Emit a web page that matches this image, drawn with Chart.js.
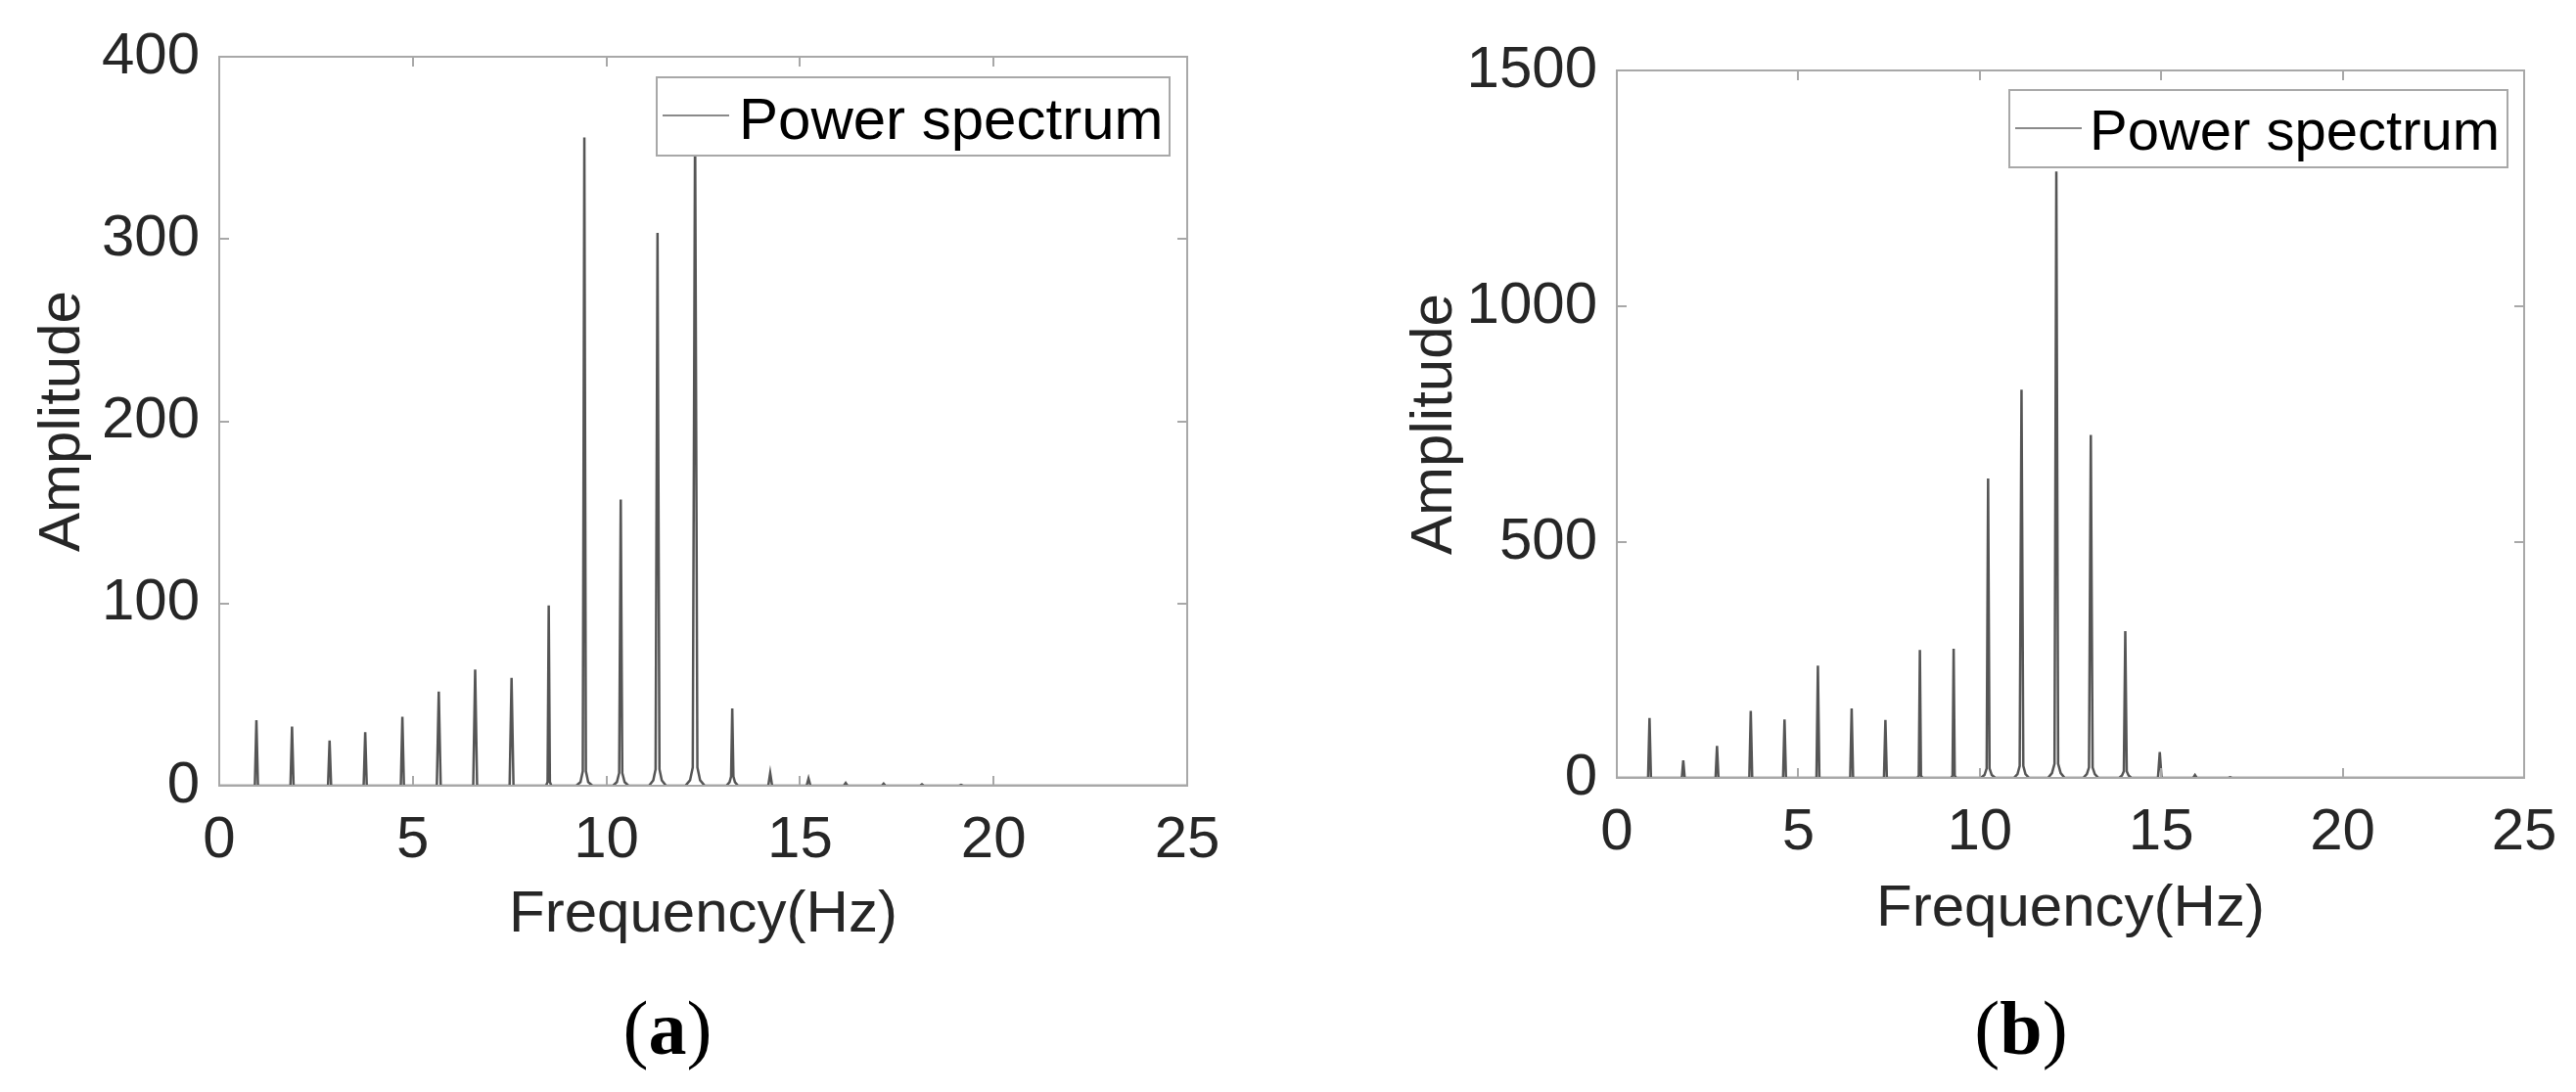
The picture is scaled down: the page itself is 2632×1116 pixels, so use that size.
<!DOCTYPE html>
<html>
<head>
<meta charset="utf-8">
<title>Power spectrum</title>
<script src="https://cdn.jsdelivr.net/npm/chart.js@4.4.1/dist/chart.umd.min.js"></script>
<style>
  html, body { margin: 0; padding: 0; background: #fff; }
  body { width: 2632px; height: 1116px; position: relative; overflow: hidden; }
  canvas { position: absolute; top: 0; }
  #chartA { left: 0; }
  #chartB { left: 1320px; }
  .caption {
    position: absolute; top: 1012px; width: 200px; text-align: center;
    font: 78px/78px "Liberation Serif", "Times New Roman", serif; color: #000;
  }
</style>
</head>
<body>
<canvas id="chartA" width="1310" height="1000"></canvas>
<canvas id="chartB" width="1312" height="1000"></canvas>
<div class="caption" style="left:582px">(<b>a</b>)</div>
<div class="caption" style="left:1965px">(<b>b</b>)</div>
<script>
// tick labels
const freqTicks = [0, 5, 10, 15, 20, 25];
const ampTicksA = [0, 100, 200, 300, 400];
const ampTicksB = [0, 500, 1000, 1500];

// panel (a) spectrum, vertices
const freqA = [0,
  0.92, 0.96, 1.00,
  1.84, 1.88, 1.92,
  2.81, 2.85, 2.89,
  3.73, 3.77, 3.81,
  4.69, 4.73, 4.77,
  5.62, 5.67, 5.72,
  6.56, 6.61, 6.66,
  7.50, 7.55, 7.60,
  8.44, 8.48, 8.51, 8.54, 8.58,
  9.22, 9.33, 9.39, 9.43, 9.47, 9.53, 9.64,
  10.17, 10.27, 10.33, 10.37, 10.41, 10.47, 10.57,
  11.10, 11.21, 11.27, 11.32, 11.37, 11.43, 11.54,
  12.04, 12.16, 12.23, 12.29, 12.35, 12.42, 12.54,
  13.10, 13.18, 13.22, 13.25, 13.28, 13.32, 13.40,
  14.18, 14.23, 14.28,
  15.17, 15.22, 15.27,
  16.13, 16.18, 16.23,
  17.11, 17.16, 17.21,
  18.10, 18.15, 18.20,
  19.11, 19.16, 19.21,
  25];
const ampA = [0,
  0, 35.9, 0,
  0, 32.5, 0,
  0, 24.8, 0,
  0, 29.4, 0,
  0, 37.8, 0,
  0, 51.6, 0,
  0, 63.8, 0,
  0, 59.2, 0,
  0, 2, 98.9, 2, 0,
  0, 2, 8, 355.7, 8, 2, 0,
  0, 2, 7, 157, 7, 2, 0,
  0, 3, 9, 303.3, 9, 3, 0,
  0, 3, 10, 365, 10, 3, 0,
  0, 2, 5, 42.4, 5, 2, 0,
  0, 7, 0,
  0, 4, 0,
  0, 1.5, 0,
  0, 1.2, 0,
  0, 0.8, 0,
  0, 0.5, 0,
  0];

// panel (b) spectrum
const freqB = [0,
  0.86, 0.90, 0.94,
  1.79, 1.83, 1.87,
  2.72, 2.76, 2.80,
  3.65, 3.69, 3.73,
  4.58, 4.62, 4.66,
  5.50, 5.54, 5.58,
  6.43, 6.47, 6.51,
  7.36, 7.40, 7.44,
  8.28, 8.32, 8.35, 8.38, 8.42,
  9.21, 9.25, 9.28, 9.31, 9.35,
  10.03, 10.13, 10.19, 10.23, 10.27, 10.33, 10.43,
  10.94, 11.04, 11.10, 11.15, 11.20, 11.26, 11.36,
  11.88, 11.99, 12.06, 12.11, 12.16, 12.23, 12.34,
  12.85, 12.95, 13.01, 13.06, 13.11, 13.17, 13.27,
  13.84, 13.92, 13.97, 14.01, 14.05, 14.10, 14.18,
  14.91, 14.96, 15.01,
  15.88, 15.93, 15.98,
  16.85, 16.90, 16.95,
  25];
const ampB = [0,
  0, 127, 0,
  0, 37, 0,
  0, 68, 0,
  0, 142, 0,
  0, 124, 0,
  0, 238, 0,
  0, 147, 0,
  0, 123, 0,
  0, 5, 271, 5, 0,
  0, 5, 274, 5, 0,
  0, 6, 20, 635, 20, 6, 0,
  0, 8, 25, 823, 25, 8, 0,
  0, 10, 30, 1286, 30, 10, 0,
  0, 8, 22, 727, 22, 8, 0,
  0, 5, 14, 311, 14, 5, 0,
  0, 55, 0,
  0, 6, 0,
  0, 1.5, 0,
  0];

Chart.defaults.font.family = '"Liberation Sans", Arial, Helvetica, sans-serif';
Chart.defaults.color = '#262626';

// MATLAB style box with inward ticks, then the legend on top
const frameAndLegend = {
  id: 'frameAndLegend',
  afterDatasetsDraw(chart, args, opts) {
    const { ctx, chartArea: a, scales: { x, y } } = chart;
    ctx.save();
    ctx.strokeStyle = '#a8a8a8';
    ctx.lineWidth = 2;
    ctx.strokeRect(a.left, a.top, a.right - a.left, a.bottom - a.top);
    ctx.beginPath();
    x.ticks.forEach(t => {
      const px = Math.round(x.getPixelForValue(t.value));
      ctx.moveTo(px, a.bottom); ctx.lineTo(px, a.bottom - 10);
      ctx.moveTo(px, a.top); ctx.lineTo(px, a.top + 10);
    });
    y.ticks.forEach(t => {
      const py = Math.round(y.getPixelForValue(t.value));
      ctx.moveTo(a.left, py); ctx.lineTo(a.left + 10, py);
      ctx.moveTo(a.right, py); ctx.lineTo(a.right - 10, py);
    });
    ctx.stroke();

    const b = opts.box;
    ctx.fillStyle = '#fff';
    ctx.fillRect(b.left, b.top, b.right - b.left, b.bottom - b.top);
    ctx.strokeStyle = '#a8a8a8';
    ctx.strokeRect(b.left, b.top, b.right - b.left, b.bottom - b.top);
    ctx.strokeStyle = '#8a8a8a';
    ctx.beginPath();
    ctx.moveTo(b.lineStart, b.lineY);
    ctx.lineTo(b.lineEnd, b.lineY);
    ctx.stroke();
    ctx.fillStyle = '#000';
    ctx.font = b.fontSize + 'px ' + Chart.defaults.font.family;
    ctx.textBaseline = 'alphabetic';
    ctx.textAlign = 'left';
    ctx.fillText(chart.data.datasets[0].label, b.textX, b.textY);
    ctx.restore();
  }
};

function makeChart(id, freq, amp, ampMax, ampTicks, geo) {
  const ctx = document.getElementById(id).getContext('2d');
  return new Chart(ctx, {
    type: 'scatter',
    data: {
      datasets: [{
        label: 'Power spectrum',
        data: freq.map((f, i) => ({ x: f, y: amp[i] })),
        showLine: true,
        borderColor: '#555555',
        borderWidth: 2.5,
        pointRadius: 0,
        pointHoverRadius: 0,
        fill: false,
        tension: 0
      }]
    },
    options: {
      responsive: false,
      animation: false,
      devicePixelRatio: 1,
      layout: { padding: geo.padding },
      plugins: {
        legend: { display: false },
        tooltip: { enabled: false },
        frameAndLegend: { box: geo.legend }
      },
      scales: {
        x: {
          type: 'linear', min: 0, max: 25,
          afterBuildTicks: s => { s.ticks = freqTicks.map(v => ({ value: v })); },
          afterFit: s => { s.height = 170; s.paddingLeft = 0; s.paddingRight = 0; },
          grid: { display: false, drawTicks: false },
          border: { display: false },
          ticks: {
            padding: 20, maxRotation: 0, autoSkip: false, color: '#262626',
            font: { size: 60, lineHeight: 1.2 },
            callback: v => String(v)
          },
          title: {
            display: true, text: 'Frequency(Hz)', color: '#262626',
            font: { size: 60, lineHeight: 1.2 },
            padding: { top: 0, bottom: geo.xTitlePad }
          }
        },
        y: {
          type: 'linear', min: 0, max: ampMax,
          afterBuildTicks: s => { s.ticks = ampTicks.map(v => ({ value: v })); },
          afterFit: s => { s.width = geo.yWidth; s.paddingTop = 0; s.paddingBottom = 0; },
          grid: { display: false, drawTicks: false },
          border: { display: false },
          ticks: {
            padding: 20, autoSkip: false, color: '#262626',
            font: { size: 60, lineHeight: 1.2 },
            callback: v => String(v)
          },
          title: {
            display: true, text: 'Amplitude', color: '#262626',
            font: { size: 60, lineHeight: 1.2 },
            padding: { top: geo.yTitlePad, bottom: 0 }
          }
        }
      }
    },
    plugins: [frameAndLegend]
  });
}

makeChart('chartA', freqA, ampA, 400, ampTicksA, {
  padding: { left: 0, top: 58, right: 97, bottom: 27 },
  yWidth: 224, yTitlePad: 28, xTitlePad: 2,
  legend: { left: 671, top: 79, right: 1195, bottom: 159,
            lineStart: 677, lineEnd: 745, lineY: 118,
            textX: 755, textY: 142, fontSize: 60 }
});

makeChart('chartB', freqB, ampB, 1500, ampTicksB, {
  padding: { left: 0, top: 72, right: 53, bottom: 35 },
  yWidth: 332, yTitlePad: 110, xTitlePad: 0,
  legend: { left: 733, top: 92, right: 1242, bottom: 171,
            lineStart: 739, lineEnd: 807, lineY: 131,
            textX: 815, textY: 153, fontSize: 58 }
});
</script>
</body>
</html>
